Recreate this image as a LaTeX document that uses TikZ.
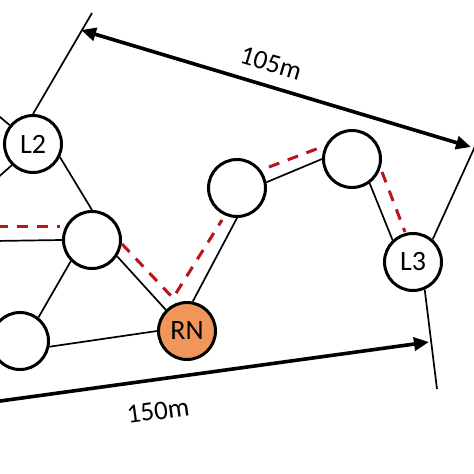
\documentclass[tikz,border=0pt]{standalone}
\usepackage{fontspec}
\setmainfont{Carlito}
\usetikzlibrary{arrows.meta}
\definecolor{rnorange}{RGB}{240,150,90}
\definecolor{routered}{RGB}{185,20,25}
\begin{document}
\begin{tikzpicture}[x=1pt,y=-1pt,
  nd/.style={circle,draw=black,line width=3pt,fill=white,minimum size=57pt,inner sep=0pt,
    font=\fontsize{28}{32}\selectfont},
  rn/.style={nd,fill=rnorange},
  edge/.style={line width=1.7pt,black},
  route/.style={line width=3pt,routered,dash pattern=on 11pt off 9pt},
  dim/.style={line width=3.6pt,black,arrows={-Triangle[length=15pt,width=13pt]}},
  dimtwo/.style={line width=3.6pt,black,arrows={Triangle[length=15pt,width=13pt]-Triangle[length=15pt,width=13pt]}},
  ext/.style={line width=1.7pt,black},
  lab/.style={font=\fontsize{27}{31}\selectfont,inner sep=0pt}]
\useasboundingbox (0,0) rectangle (474,474);
\fill[white] (0,0) rectangle (474,474);

% nodes
\node[nd] (L2) at (33,144) {L2};
\node[nd] (A)  at (92,240) {};
\node[nd] (BL) at (20,341) {};
\node[rn] (RN) at (187,331) {RN};
\node[nd] (B)  at (237,188) {};
\node[nd] (C)  at (352,159) {};
\node[nd] (L3) at (413,262) {L3};

% free ends
\coordinate (e1) at (92,13);
\coordinate (e2) at (477,142);
\coordinate (e3) at (437,389);
\coordinate (l2a) at (-6,112);
\coordinate (l2b) at (-6,181);
\coordinate (aw) at (-6,241);
\coordinate (t1) at (81,30);
\coordinate (t2) at (471,147);
\coordinate (t3) at (-10,402.4);
\coordinate (t4) at (429,342);

% route (dashed) coordinates
\coordinate (r0) at (-3,226);
\coordinate (r1) at (60,226);
\coordinate (r2) at (122,244);
\coordinate (r3) at (173,298);
\coordinate (r4) at (222,220);
\coordinate (r5) at (269,167);
\coordinate (r6) at (319,148);
\coordinate (r7) at (382,172);
\coordinate (r8) at (405,232);

% edges
\draw[edge] (L2.-26) -- (A.north);
\draw[edge] (A.225) -- (BL.52);
\draw[edge] (A.-33) -- (RN.135);
\draw[edge] (BL.-11) -- (RN.west);
\draw[edge] (RN.79) -- (B.south);
\draw[edge] (B.11) -- (C.west);
\draw[edge] (C.-54) -- (L3.133);
\draw[edge] (L2.141) -- (l2a);
\draw[edge] (L2.225) -- (l2b);
\draw[edge] (A.west) -- (aw);

% extension lines
\draw[ext] (L2.north) -- (e1);
\draw[ext] (L3.49) -- (e2);
\draw[ext] (L3.-67) -- (e3);

% route
\draw[route] (r0) -- (r1);
\draw[route] (r2) -- (r3) -- (r4);
\draw[route] (r5) -- (r6);
\draw[route] (r7) -- (r8);

% dimensions
\draw[dimtwo] (t1) -- (t2);
\draw[dim] (t3) -- (t4);
\node[lab,rotate=-16.7] (d105) at (271,63) {105m};
\node[lab,rotate=7.8] (d150) at (158,411) {150m};
\end{tikzpicture}
\end{document}
